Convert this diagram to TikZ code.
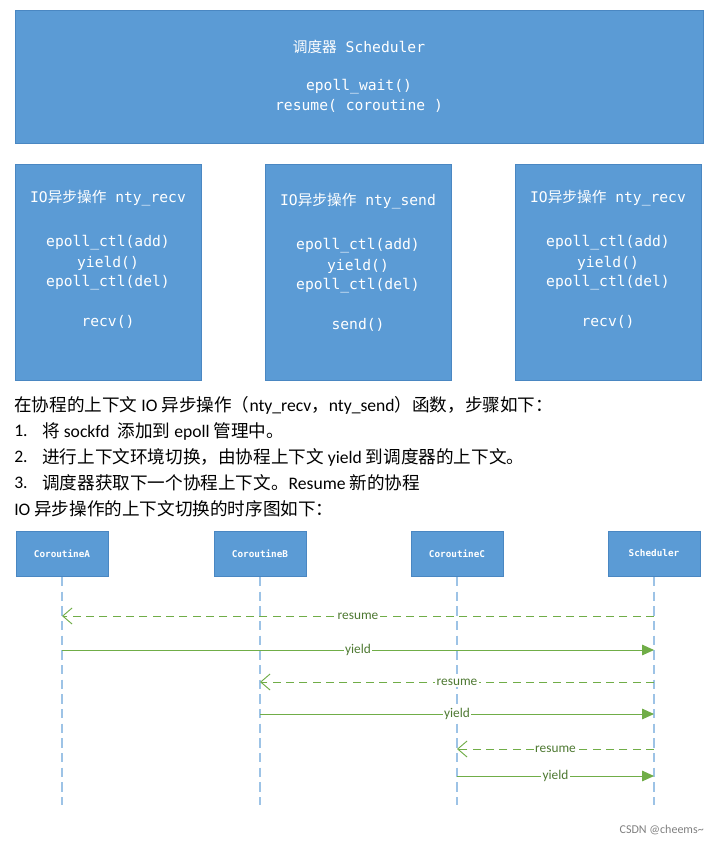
\documentclass[tikz,border=0pt]{standalone}
\usepackage{fontspec}
\setmainfont{Carlito}
\newfontfamily\cjk{Noto Sans CJK SC}
\newfontfamily\mono{DejaVu Sans Mono}
\newcommand{\zh}[1]{{\cjk #1}}
\usetikzlibrary{arrows.meta}
\definecolor{bluebox}{HTML}{5B9BD5}
\definecolor{blueedge}{HTML}{4A87C2}
\definecolor{life}{HTML}{9DC3E6}
\definecolor{grn}{HTML}{70AD47}
\begin{document}
\begin{tikzpicture}[x=0.75pt,y=-0.75pt,
  box/.style={fill=bluebox,draw=blueedge,line width=0.6pt},
  wt/.style={text=white,font=\mono\fontsize{11}{13}\selectfont,align=center,inner sep=0},
  para/.style={anchor=west,inner sep=0,font=\fontsize{13.2}{15}\selectfont},
  head/.style={fill=bluebox,draw=blueedge,line width=0.5pt,minimum width=69pt,minimum height=33.75pt,text=white,font=\mono\bfseries\fontsize{7}{8}\selectfont},
  lifeline/.style={draw=life,line width=1pt,dash pattern=on 7pt off 4pt},
  msgr/.style={draw=grn,line width=0.7pt,dash pattern=on 6pt off 4pt,-{Straight Barb[length=7pt,width=12pt,line width=0.7pt]}},
  msgy/.style={draw=grn,line width=0.7pt,-{Triangle[length=9pt,width=8pt,fill=grn]}},
  lab/.style={fill=white,text=grn!70!black,inner sep=1pt,font=\fontsize{10}{11}\selectfont}]
\useasboundingbox (0,0) rectangle (720,845);
\fill[white] (0,0) rectangle (720,845);
% top box
\draw[box] (15,10) rectangle (703,143);
\node[wt] (t1) at (359,47) {\zh{调度器} Scheduler};
\node[wt] (t2) at (359,87) {epoll\_wait()};
\node[wt] (t3) at (359,106) {resume( coroutine )};
% three boxes
\foreach \x/\dy/\nm/\fn/\id in {15/0/nty\_recv/recv()/a,265/3/nty\_send/send()/b,515/0/nty\_recv/recv()/c}{
  \draw[box] (\x,164) rectangle ({\x+186},380);
  \node[wt] (h\id) at ({\x+93},{198+\dy}) {IO\zh{异步操作} \nm};
  \node[wt] (l1\id) at ({\x+93},{243+\dy}) {epoll\_ctl(add)};
  \node[wt] (l2\id) at ({\x+93},{263+\dy}) {yield()};
  \node[wt] (l3\id) at ({\x+93},{283+\dy}) {epoll\_ctl(del)};
  \node[wt] (l4\id) at ({\x+93},{322+\dy}) {\fn};
}
% paragraph
\node[para] (p0) at (14,405) {\zh{在协程的上下文} IO \zh{异步操作（}nty\_recv\zh{，}nty\_send\zh{）函数，步骤如下：}};
\node[para] (n1) at (14,431) {1.};
\node[para] (p1) at (42,431) {\zh{将} sockfd \ \zh{添加到} epoll \zh{管理中。}};
\node[para] (n2) at (14,457) {2.};
\node[para] (p2) at (42,457) {\zh{进行上下文环境切换，由协程上下文} yield \zh{到调度器的上下文。}};
\node[para] (n3) at (14,483) {3.};
\node[para] (p3) at (42,483) {\zh{调度器获取下一个协程上下文。}Resume \zh{新的协程}};
\node[para] (p4) at (14,509) {IO \zh{异步操作的上下文切换的时序图如下：}};
% sequence
\foreach \x/\nm in {62/CoroutineA,260/CoroutineB,457/CoroutineC,654/Scheduler}{
  \draw[lifeline] (\x,577) -- (\x,805);
  \node[head] (\nm) at (\x,553.5) {\nm};
}
\coordinate (a1) at (62,616); \coordinate (s1) at (654,616);
\coordinate (a2) at (62,650); \coordinate (s2) at (654,650);
\coordinate (b3) at (260,682); \coordinate (s3) at (654,682);
\coordinate (b4) at (260,714); \coordinate (s4) at (654,714);
\coordinate (c5) at (457,749); \coordinate (s5) at (654,749);
\coordinate (c6) at (457,776); \coordinate (s6) at (654,776);
\draw[msgr] (s1) -- node[lab] {resume} (a1);
\draw[msgy] (a2) -- node[lab] {yield} (s2);
\draw[msgr] (s3) -- node[lab] {resume} (b3);
\draw[msgy] (b4) -- node[lab] {yield} (s4);
\draw[msgr] (s5) -- node[lab] {resume} (c5);
\draw[msgy] (c6) -- node[lab] {yield} (s6);
\node[anchor=east,text=gray,inner sep=0,font=\fontsize{9}{11}\selectfont] (w) at (704,830) {CSDN @cheems\textasciitilde};
\end{tikzpicture}
\end{document}
